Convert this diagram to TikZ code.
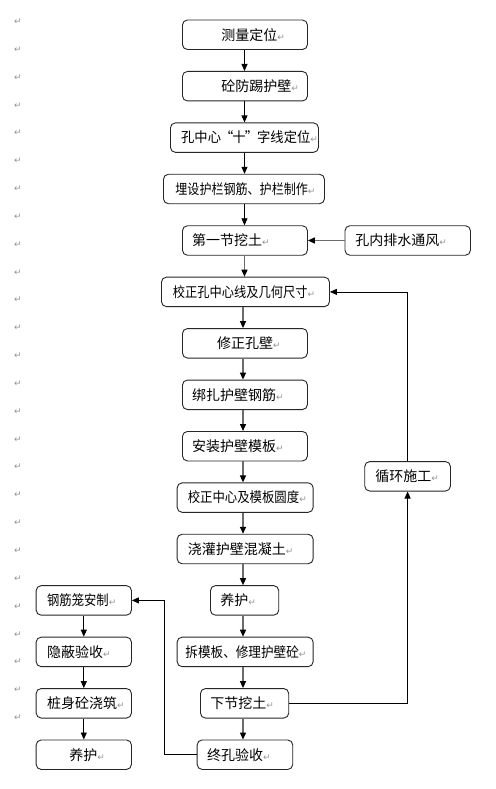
\documentclass[tikz,border=0pt]{standalone}
\usepackage{fontspec}
\setmainfont{Noto Sans CJK SC}
\newfontfamily\symf{DejaVu Sans}
\usepackage{graphicx}
\usetikzlibrary{arrows.meta}
\definecolor{retgray}{gray}{0.58}
\definecolor{lngray}{gray}{0.42}
\newcommand\retm{{\symf\fontsize{9}{9}\selectfont\color{retgray}↵}}
\newcommand\bt[4]{\makebox[#1pt][l]{\hspace*{#2pt}\scalebox{#3}[1]{#4}\retm}}
\newcommand\fq[1]{\makebox[12pt]{#1}}
\begin{document}
\begin{tikzpicture}[x=1pt,y=-1pt,
  box/.style={draw=black!85, line width=0.9pt, rounded corners=5pt, fill=white,
    inner xsep=0pt, inner ysep=0pt, minimum height=29.5pt, anchor=west,
    font=\fontsize{14}{16}\selectfont},
  arrK/.style={draw=black, line width=0.8pt, -{Triangle[length=7pt,width=6pt]}},
  arrG/.style={draw=lngray, line width=1.4pt, -{Triangle[length=7pt,width=6pt,color=black]}},
  retmark/.style={inner sep=0pt, font=\symf\fontsize{9}{9}\selectfont, text=retgray}
]
\useasboundingbox[fill=white] (0,0) rectangle (495,789);
% left margin paragraph marks
\foreach \k in {0,...,25} \node[retmark] (m\k) at (18, 21.7+27.84*\k) {↵};
% main column
\node[box] (b1) at (182, 34.75) {\bt{125}{39}{1}{测量定位}};
\node[box] (b2) at (182, 86.2) {\bt{125}{39}{1}{砼防踢护壁}};
\node[box] (b3) at (170, 137.6) {\bt{148}{10.7}{0.95}{孔中心\fq{“}十\fq{”}字线定位}};
\node[box] (b4) at (163, 189) {\bt{161}{12}{0.86}{埋设护栏钢筋、护栏制作}};
\node[box] (b5) at (182, 240.5) {\bt{125}{9.7}{1}{第一节挖土}};
\node[box] (r1) at (344.5, 240.5) {\bt{125.5}{10.5}{1}{孔内排水通风}};
\node[box] (b6) at (161, 291.9) {\bt{168}{11.3}{0.875}{校正孔中心线及几何尺寸}};
\node[box] (b7) at (182, 343.3) {\bt{125}{34.7}{1}{修正孔壁}};
\node[box] (b8) at (182, 394.8) {\bt{125}{9.7}{1}{绑扎护壁钢筋}};
\node[box] (b9) at (182, 446.2) {\bt{125}{9.7}{1}{安装护壁模板}};
\node[box] (b10) at (176.7, 497.6) {\bt{136}{10.6}{0.885}{校正中心及模板圆度}};
\node[box] (b11) at (176.7, 549.0) {\bt{136}{10.6}{1}{浇灌护壁混凝土}};
\node[box] (b12) at (210, 600.4) {\bt{68.3}{10}{1}{养护}};
\node[box] (b13) at (176.7, 651.9) {\bt{136}{8.3}{0.9}{拆模板、修理护壁砼}};
\node[box] (b14) at (200, 703.3) {\bt{88.3}{10}{1}{下节挖土}};
\node[box] (b15) at (196.7, 754.7) {\bt{95.6}{10}{1}{终孔验收}};
\node[box] (r2) at (364.3, 476.3) {\bt{85.7}{10.7}{1}{循环施工}};
% left column
\node[box] (l1) at (35.7, 600.4) {\bt{95.3}{11}{0.88}{钢筋笼安制}};
\node[box] (l2) at (35.7, 651.9) {\bt{95.3}{11}{1}{隐蔽验收}};
\node[box] (l3) at (35.7, 703.3) {\bt{95.3}{11}{1}{桩身砼浇筑}};
\node[box] (l4) at (35.7, 754.7) {\bt{95.3}{33.3}{1}{养护}};
% vertical arrows, main column
\coordinate (xu) at (244.5, 0);
\coordinate (xl) at (243, 0);
\foreach \a/\b in {b1/b2, b2/b3, b3/b4, b4/b5}
  \draw[arrK] (\a.south -| xu) -- (\b.north -| xu);
\draw[arrG] (b5.south -| xu) -- (b6.north -| xu);
\foreach \a/\b in {b6/b7, b7/b8, b8/b9, b9/b10, b10/b11, b11/b12, b12/b13, b13/b14, b14/b15}
  \draw[arrG] (\a.south -| xl) -- (\b.north -| xl);
% side inputs
\draw[arrG] (r1.west) -- (b5.east);
\draw[arrK] (b14.east) -- (b14.east -| r2.south) -- (r2.south);
\draw[arrK] (r2.north) -- (r2.north |- b6.east) -- (b6.east);
\coordinate (xc) at (164.3, 0);
\draw[arrK] (b15.west) -- (b15.west -| xc) -- (xc |- l1.east) -- (l1.east);
% left column arrows
\foreach \a/\b in {l1/l2, l2/l3, l3/l4}
  \draw[arrK] (\a.south) -- (\b.north);
\end{tikzpicture}
\end{document}
